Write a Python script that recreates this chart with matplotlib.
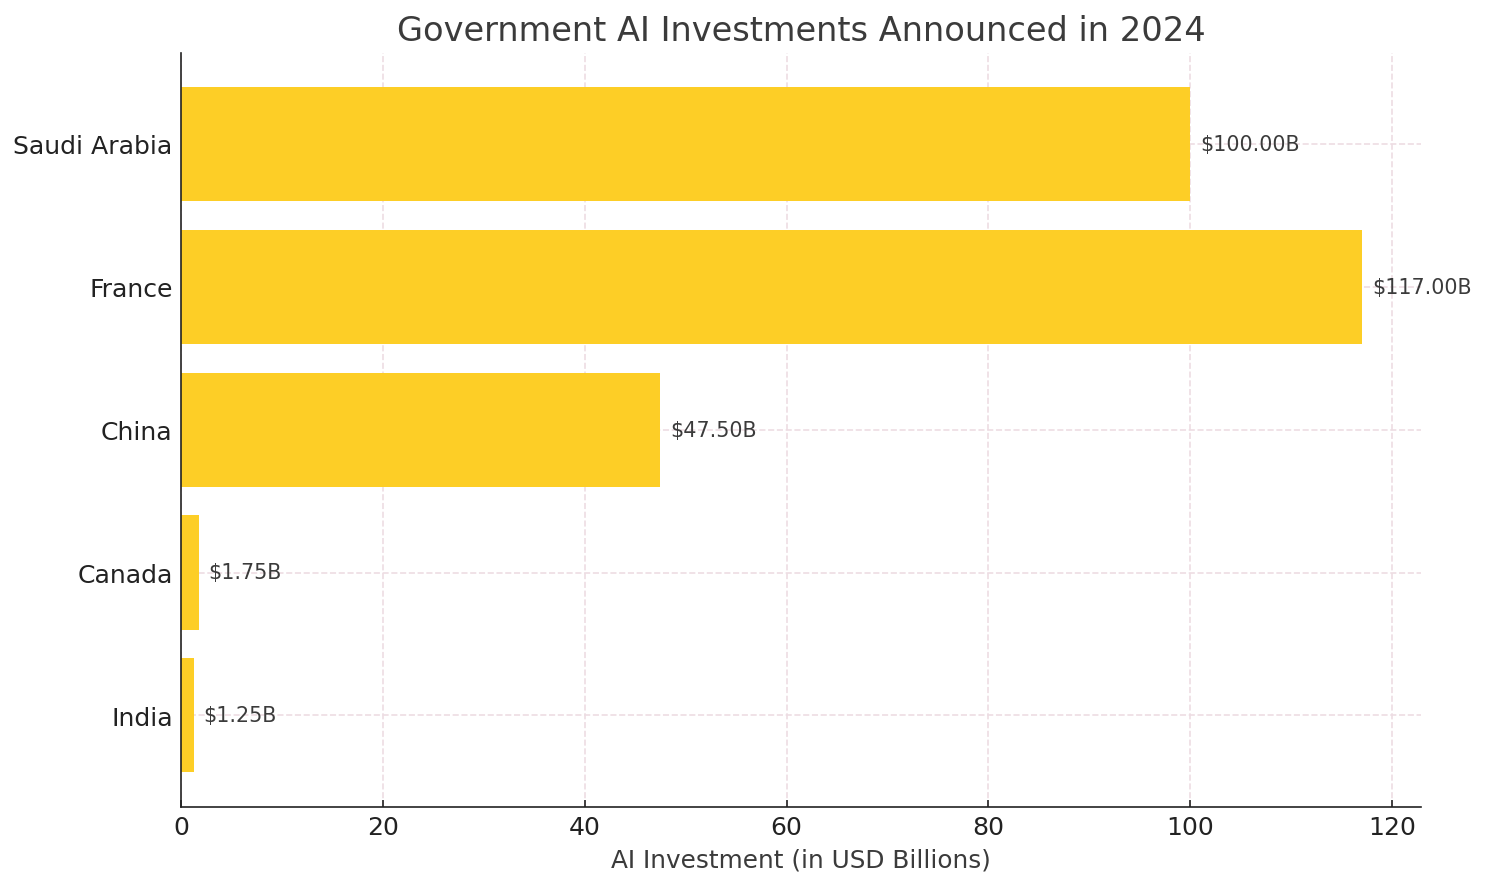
import matplotlib
matplotlib.use('Agg')
import matplotlib.pyplot as plt

countries = ['India', 'Canada', 'China', 'France', 'Saudi Arabia']
investments = [1.25, 1.75, 47.5, 117.0, 100.0]

text_color = '#3b3b3b'
plt.rcParams['font.family'] = 'DejaVu Sans'

fig, ax = plt.subplots(figsize=(10, 6), dpi=148.8)
bars = ax.barh(countries, investments, color='#FDCE26')

# value labels next to each bar
for bar in bars:
    w = bar.get_width()
    ax.text(w + 1, bar.get_y() + bar.get_height() / 2, f'${w:.2f}B',
            va='center', ha='left', fontsize=10, color=text_color)

ax.set_title('Government AI Investments Announced in 2024', fontsize=16.3, color=text_color)
ax.set_xlabel('AI Investment (in USD Billions)', fontsize=12, color=text_color, labelpad=4)
ax.tick_params(axis='both', labelsize=12.2, colors='#222222', direction='in', pad=4)
for s in ['top', 'right']:
    ax.spines[s].set_visible(False)
for s in ['left', 'bottom']:
    ax.spines[s].set_color('#222222')
ax.grid(True, linestyle='--', color='#eddde3', linewidth=0.8)
ax.set_axisbelow(True)

plt.subplots_adjust(left=0.1216, right=0.955, top=0.940, bottom=0.0955)
plt.savefig('out.png', dpi=148.8)
